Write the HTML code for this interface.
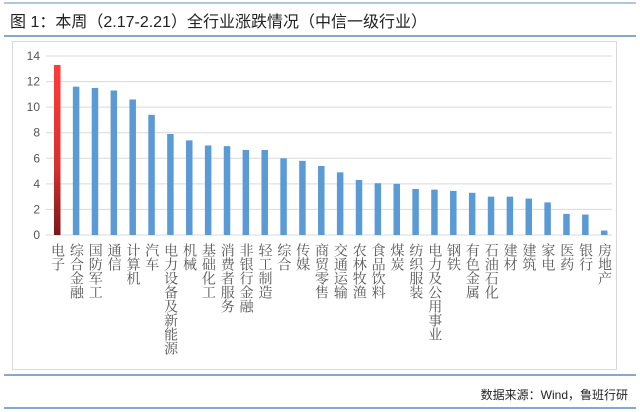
<!DOCTYPE html>
<html><head><meta charset="utf-8"><style>
body{margin:0;background:#fff;}
svg{display:block;}
</style></head><body>
<svg width="640" height="412" xmlns="http://www.w3.org/2000/svg">
<defs><linearGradient id="g" x1="0" y1="0" x2="0" y2="1"><stop offset="0" stop-color="#ff3b3b"/><stop offset="0.6" stop-color="#d83030"/><stop offset="1" stop-color="#7a1818"/></linearGradient></defs>
<line x1="4" y1="3" x2="636" y2="3" stroke="#5b8cc4" stroke-width="1"/>
<text x="10" y="27" font-family="Liberation Sans,'Noto Sans CJK SC',sans-serif" font-size="16" fill="#222">图 1：本周（2.17-2.21）全行业涨跌情况（中信一级行业）</text>
<line x1="4" y1="36" x2="636" y2="36" stroke="#5b8cc4" stroke-width="1.5"/>
<rect x="12.5" y="41.5" width="604" height="328" fill="none" stroke="#d9d9d9"/>
<g stroke="#d9d9d9" stroke-width="1">
<line x1="46" y1="56" x2="612" y2="56"/><line x1="46" y1="81.6" x2="612" y2="81.6"/><line x1="46" y1="107.1" x2="612" y2="107.1"/><line x1="46" y1="132.7" x2="612" y2="132.7"/><line x1="46" y1="158.3" x2="612" y2="158.3"/><line x1="46" y1="183.9" x2="612" y2="183.9"/><line x1="46" y1="209.4" x2="612" y2="209.4"/><line x1="46" y1="235" x2="612" y2="235"/>
</g>
<g font-family="Liberation Sans,sans-serif" font-size="12" fill="#555" text-anchor="end">
<text x="40" y="60">14</text><text x="40" y="85.6">12</text><text x="40" y="111.1">10</text><text x="40" y="136.7">8</text><text x="40" y="162.3">6</text><text x="40" y="187.9">4</text><text x="40" y="213.4">2</text><text x="40" y="239">0</text>
</g>
<g id="bars"></g>
<g id="labs" font-family="'Noto Serif CJK SC','Noto Serif CJK JP',serif" font-size="14" fill="#555"></g>
<line x1="4" y1="375" x2="636" y2="375" stroke="#5b8cc4" stroke-width="1.5"/>
<text x="628" y="399" text-anchor="end" font-family="Liberation Sans,'Noto Sans CJK SC',sans-serif" font-size="12" fill="#222">数据来源：Wind，鲁班行研</text>
<line x1="4" y1="408" x2="636" y2="408" stroke="#5b8cc4" stroke-width="1.5"/>
<script>
var v=[13.3,11.6,11.5,11.3,10.6,9.4,7.9,7.4,7.0,6.95,6.65,6.65,6.0,5.8,5.4,4.9,4.3,4.05,4.0,3.6,3.55,3.45,3.3,3.0,3.0,2.85,2.55,1.65,1.6,0.35];
var n=["电子","综合金融","国防军工","通信","计算机","汽车","电力设备及新能源","机械","基础化工","消费者服务","非银行金融","轻工制造","综合","传媒","商贸零售","交通运输","农林牧渔","食品饮料","煤炭","纺织服装","电力及公用事业","钢铁","有色金属","石油石化","建材","建筑","家电","医药","银行","房地产"];
var ns="http://www.w3.org/2000/svg",b=document.getElementById("bars"),l=document.getElementById("labs");
for(var i=0;i<30;i++){var x=57+i*18.86,h=v[i]*12.786;
var r=document.createElementNS(ns,"rect");r.setAttribute("x",x-3);r.setAttribute("y",235-h);r.setAttribute("width",6.5);r.setAttribute("height",h);r.setAttribute("fill",i==0?"url(#g)":"#5b9bd5");b.appendChild(r);
var t=document.createElementNS(ns,"text");t.setAttribute("x",x+1);t.setAttribute("y",243);t.setAttribute("style","writing-mode:tb;glyph-orientation-vertical:0");t.textContent=n[i];l.appendChild(t);}
</script>
</svg>
</body></html>
